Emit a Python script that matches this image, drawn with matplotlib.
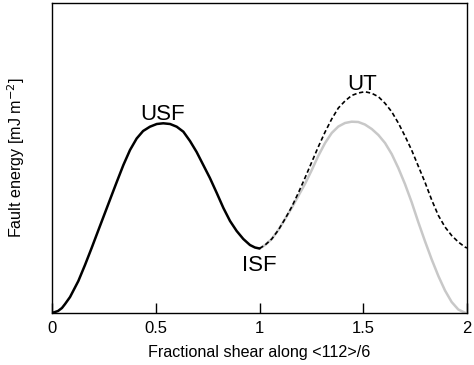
import matplotlib
matplotlib.use("Agg")
import matplotlib.pyplot as plt

plt.rcParams['font.family'] = ['Liberation Sans', 'DejaVu Sans']

# Black curve: 0 -> USF -> ISF (arbitrary energy units)
black_x = [0.000, 0.029, 0.048, 0.063, 0.087, 0.127, 0.159, 0.191, 0.222, 0.255,
           0.288, 0.312, 0.344, 0.376, 0.408, 0.439, 0.472, 0.505, 0.536, 0.569,
           0.601, 0.633, 0.665, 0.697, 0.729, 0.761, 0.794, 0.826, 0.858, 0.890,
           0.922, 0.954, 0.978, 1.000]
black_y = [0, 2, 5, 9, 16, 32, 48, 65, 82, 100,
           118, 131, 148, 163, 174.5, 182, 186.3, 189, 189.7, 189,
           186.3, 181.3, 172, 161, 148, 135, 120, 105, 92, 82,
           74, 68, 65.5, 64.5]

# Dashed curve: ISF -> UT -> end
dash_x = [1.000, 1.027, 1.059, 1.091, 1.123, 1.155, 1.187, 1.219, 1.252, 1.283,
          1.316, 1.348, 1.380, 1.412, 1.444, 1.476, 1.508, 1.541, 1.573, 1.605,
          1.637, 1.669, 1.701, 1.733, 1.765, 1.798, 1.830, 1.862, 1.894, 1.926,
          1.958, 1.990, 2.000]
dash_y = [64.5, 68, 74, 83, 94, 106, 120, 135, 151, 166,
          181, 194, 205, 212, 217.5, 220, 221.3, 219.7, 216.3, 209.7,
          201.3, 190, 177, 163, 147, 130.5, 113, 97.5, 86, 77.5,
          71, 66, 65]

# Grey curve: ISF -> lower peak -> 0
grey_x = [1.000, 1.027, 1.059, 1.091, 1.123, 1.155, 1.187, 1.219, 1.252, 1.283,
          1.316, 1.348, 1.380, 1.412, 1.444, 1.476, 1.508, 1.541, 1.573, 1.605,
          1.637, 1.669, 1.701, 1.733, 1.765, 1.798, 1.830, 1.862, 1.894, 1.926,
          1.958, 1.990, 2.000]
grey_y = [64.5, 68, 74, 83, 94, 105, 117, 129, 143, 157,
          170, 180, 186.5, 190, 191.3, 191, 188.5, 184, 178, 170,
          159, 145, 129, 111, 91, 71.5, 53.5, 37, 22.5, 11,
          3.5, 0.3, 0]

xticks = [0, 0.5, 1, 1.5, 2]
xtick_labels = ['0', '0.5', '1', '1.5', '2']

fig = plt.figure(figsize=(4.74, 3.65), dpi=100)
ax = fig.add_axes([52/474, 52/365, 415/474, 310/365])

ax.plot(grey_x, grey_y, color='#c8c8c8', lw=1.8, solid_capstyle='round',
        solid_joinstyle='round')
ax.plot(dash_x, dash_y, color='black', lw=1.2, dashes=(2.6, 1.6))
ax.plot(black_x, black_y, color='black', lw=1.8, solid_capstyle='round',
        solid_joinstyle='round')

ax.set_xlim(0, 2)
ax.set_ylim(0, 310)
ax.set_xticks(xticks)
ax.set_xticklabels(xtick_labels)
ax.set_yticks([])
ax.tick_params(axis='x', direction='in', length=7, width=1, labelsize=12, pad=6)
for s in ax.spines.values():
    s.set_linewidth(1.0)

ax.set_xlabel('Fractional shear along <112>/6', fontsize=11.6, labelpad=6)
ax.set_ylabel('Fault energy [mJ m$^{-2}$]', fontsize=11.6, labelpad=18)

ax.text(0.535, 193, 'USF', fontsize=16, ha='center', va='baseline')
ax.text(1.496, 223, 'UT', fontsize=16, ha='center', va='baseline')
ax.text(0.998, 42, 'ISF', fontsize=16, ha='center', va='baseline')

fig.savefig('out.png', dpi=100)
